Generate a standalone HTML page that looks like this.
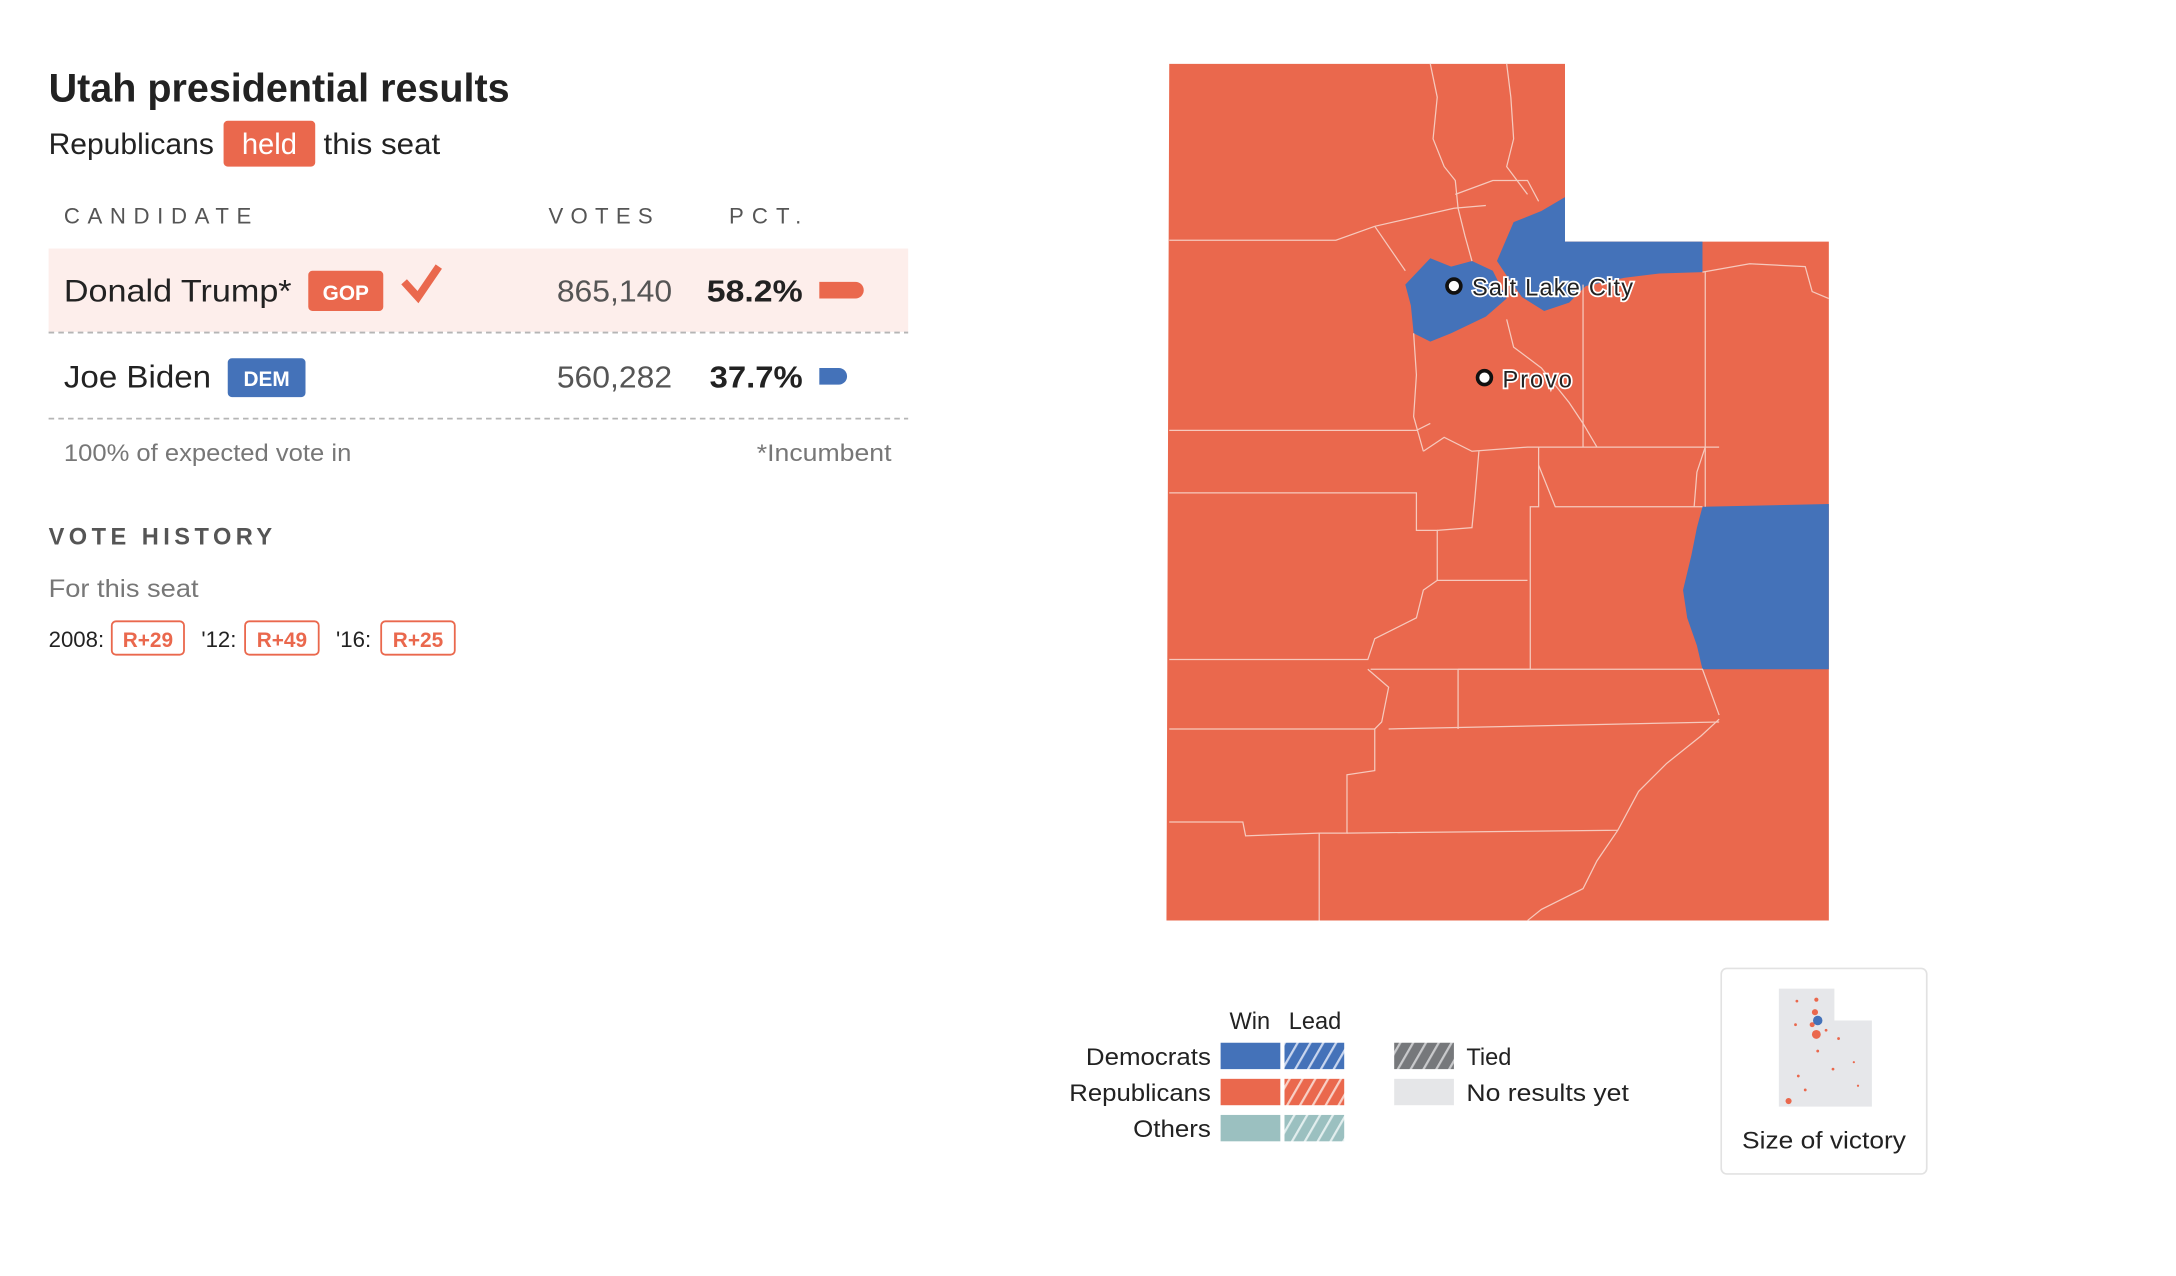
<!DOCTYPE html>
<html><head><meta charset="utf-8"><style>
html,body{margin:0;padding:0;background:#fff;}
svg{display:block;}
text{font-family:"Liberation Sans",sans-serif;}
</style></head><body>
<svg width="2176" height="1276" viewBox="0 0 1567 919" preserveAspectRatio="none" xmlns="http://www.w3.org/2000/svg">
<defs>
<pattern id="hb" width="8" height="8" patternUnits="userSpaceOnUse" patternTransform="rotate(30)"><rect width="8" height="8" fill="#4472b9"/><rect width="1.6" height="8" fill="#c9d6ee"/></pattern>
<pattern id="hr" width="8" height="8" patternUnits="userSpaceOnUse" patternTransform="rotate(30)"><rect width="8" height="8" fill="#ea684d"/><rect width="1.6" height="8" fill="#f8d0c6"/></pattern>
<pattern id="ht" width="8" height="8" patternUnits="userSpaceOnUse" patternTransform="rotate(30)"><rect width="8" height="8" fill="#9bc0c0"/><rect width="1.6" height="8" fill="#e2eeee"/></pattern>
<pattern id="hg" width="8" height="8" patternUnits="userSpaceOnUse" patternTransform="rotate(30)"><rect width="8" height="8" fill="#76787b"/><rect width="1.6" height="8" fill="#c9cacc"/></pattern>
</defs>
<!-- Left panel -->
<text x="35" y="73" font-size="29" font-weight="bold" fill="#222" textLength="332" lengthAdjust="spacingAndGlyphs">Utah presidential results</text>
<text x="35" y="111" font-size="21" fill="#222" textLength="119" lengthAdjust="spacingAndGlyphs">Republicans</text>
<rect x="161" y="87" width="66" height="33" rx="3" fill="#ea684d"/>
<text x="194" y="111" font-size="21" fill="#fff" text-anchor="middle">held</text>
<text x="233" y="111" font-size="21" fill="#222" textLength="84" lengthAdjust="spacingAndGlyphs">this seat</text>
<text x="46" y="161" font-size="16" fill="#555" textLength="135" lengthAdjust="spacing">CANDIDATE</text>
<text x="395" y="161" font-size="16" fill="#555" textLength="75" lengthAdjust="spacing">VOTES</text>
<text x="525" y="161" font-size="16" fill="#555" textLength="52" lengthAdjust="spacing">PCT.</text>
<rect x="35" y="179" width="619" height="60" fill="#fdeeeb"/>
<line x1="35" y1="239.5" x2="654" y2="239.5" stroke="#b5b5b5" stroke-width="1.3" stroke-dasharray="4,3"/>
<line x1="35" y1="301.5" x2="654" y2="301.5" stroke="#b5b5b5" stroke-width="1.3" stroke-dasharray="4,3"/>
<text x="46" y="217" font-size="23" fill="#222" textLength="164" lengthAdjust="spacingAndGlyphs">Donald Trump*</text>
<rect x="222" y="195" width="54" height="29" rx="3" fill="#ea684d"/>
<text x="249" y="216" font-size="15" font-weight="bold" fill="#fff" text-anchor="middle">GOP</text>
<path d="M291 203 L301 214 L316 192" fill="none" stroke="#ea684d" stroke-width="5.5" stroke-linecap="butt"/>
<text x="484" y="217" font-size="22" fill="#555" text-anchor="end" textLength="83" lengthAdjust="spacingAndGlyphs">865,140</text>
<text x="509" y="217" font-size="22" font-weight="bold" fill="#222" textLength="69" lengthAdjust="spacingAndGlyphs">58.2%</text>
<path d="M590 203 H616 A6 6 0 0 1 616 215 H590 Z" fill="#ea684d"/>
<text x="46" y="279" font-size="23" fill="#222" textLength="106" lengthAdjust="spacingAndGlyphs">Joe Biden</text>
<rect x="164" y="258" width="56" height="28" rx="3" fill="#4472b9"/>
<text x="192" y="278" font-size="15" font-weight="bold" fill="#fff" text-anchor="middle">DEM</text>
<text x="484" y="279" font-size="22" fill="#555" text-anchor="end" textLength="83" lengthAdjust="spacingAndGlyphs">560,282</text>
<text x="511" y="279" font-size="22" font-weight="bold" fill="#222" textLength="67" lengthAdjust="spacingAndGlyphs">37.7%</text>
<path d="M590 265 H604 A6 6 0 0 1 604 277 H590 Z" fill="#4472b9"/>
<text x="46" y="332" font-size="17" fill="#777" textLength="207" lengthAdjust="spacingAndGlyphs">100% of expected vote in</text>
<text x="642" y="332" font-size="17" fill="#777" text-anchor="end" textLength="97" lengthAdjust="spacingAndGlyphs">*Incumbent</text>
<text x="35" y="392" font-size="17" font-weight="bold" fill="#555" textLength="161" lengthAdjust="spacing">VOTE HISTORY</text>
<text x="35" y="430" font-size="18" fill="#777" textLength="108" lengthAdjust="spacingAndGlyphs">For this seat</text>
<text x="35" y="466" font-size="16" fill="#222" textLength="40" lengthAdjust="spacingAndGlyphs">2008:</text>
<rect x="80.5" y="447.5" width="52" height="24" rx="3" fill="#fff" stroke="#ea684d" stroke-width="1.3"/>
<text x="106.5" y="466" font-size="15" font-weight="bold" fill="#ea684d" text-anchor="middle">R+29</text>
<text x="145" y="466" font-size="16" fill="#222">'12:</text>
<rect x="176.5" y="447.5" width="53" height="24" rx="3" fill="#fff" stroke="#ea684d" stroke-width="1.3"/>
<text x="203" y="466" font-size="15" font-weight="bold" fill="#ea684d" text-anchor="middle">R+49</text>
<text x="242" y="466" font-size="16" fill="#222">'16:</text>
<rect x="274.5" y="447.5" width="53" height="24" rx="3" fill="#fff" stroke="#ea684d" stroke-width="1.3"/>
<text x="301" y="466" font-size="15" font-weight="bold" fill="#ea684d" text-anchor="middle">R+25</text>

<!-- Map -->
<path d="M842 46 L1127 46 L1127 174 L1317 174 L1317 663 L840 663 Z" fill="#ea684d"/>
<path d="M1012 205 L1030 186 L1045 192 L1060 188 L1075 195 L1085 215 L1070 228 L1045 240 L1030 246 L1018 240 L1016 220 Z" fill="#4472b9"/>
<path d="M1078 188 L1090 160 L1110 152 L1127 142 L1127 174 L1226 174 L1226 196 L1195 197 L1170 200 L1142 206 L1130 218 L1112 224 L1096 214 L1086 200 Z" fill="#4472b9"/>
<path d="M1226 365 L1317 363 L1317 482 L1226 482 L1222 465 L1215 445 L1212 425 L1218 400 L1222 380 Z" fill="#4472b9"/>
<g fill="none" stroke="#f6c9bd" stroke-width="0.9">
<polyline points="842,173 962,173 990,163 1047,150 1070,148"/>
<polyline points="990,163 1012,195"/>
<polyline points="1030,46 1035,70 1032,100 1040,120 1048,130 1050,150"/>
<polyline points="1085,46 1088,70 1090,100 1085,120 1100,140"/>
<polyline points="1048,140 1075,130 1100,130 1108,145"/>
<polyline points="1050,150 1055,170 1060,188"/>
<polyline points="842,310 1020,310 1030,305"/>
<polyline points="1018,240 1020,270 1018,300 1025,325"/>
<polyline points="1025,325 1040,315 1060,325 1100,322 1238,322"/>
<polyline points="1085,230 1090,250 1110,265 1130,290 1140,305 1150,322"/>
<polyline points="1140,205 1140,322"/>
<polyline points="1228,196 1228,365"/>
<polyline points="1226,196 1260,190 1300,192 1305,210 1317,215"/>
<polyline points="842,355 1020,355 1020,382 1035,382 1035,418 1100,418"/>
<polyline points="1065,325 1062,360 1060,380 1035,382"/>
<polyline points="1108,322 1108,365 1102,365 1102,482"/>
<polyline points="1108,335 1120,365 1226,365"/>
<polyline points="1228,322 1222,340 1220,365"/>
<polyline points="842,475 985,475 990,460 1020,445 1025,425 1035,418"/>
<polyline points="987,482 1102,482"/>
<polyline points="1050,482 1226,482 1238,515"/>
<polyline points="1050,482 1050,525"/>
<polyline points="985,482 1000,495 995,520 990,525 842,525"/>
<polyline points="1000,525 1238,520"/>
<polyline points="990,525 990,555 970,558 970,600 950,600 950,663"/>
<polyline points="842,592 895,592 897,602 950,600"/>
<polyline points="970,600 1165,598 1180,570 1200,550 1225,530 1238,518"/>
<polyline points="1165,598 1150,620 1140,640 1110,655 1100,663"/>
</g>
<circle cx="1047" cy="206" r="5" fill="#fff" stroke="#111" stroke-width="2.6"/>
<text x="1060" y="213" font-size="17" fill="#222" stroke="#fff" stroke-width="2.5" paint-order="stroke" textLength="116" lengthAdjust="spacing">Salt Lake City</text>
<circle cx="1069" cy="272" r="5" fill="#fff" stroke="#111" stroke-width="2.6"/>
<text x="1082" y="279" font-size="17" fill="#222" stroke="#fff" stroke-width="2.5" paint-order="stroke" textLength="50" lengthAdjust="spacing">Provo</text>

<!-- Legend -->
<g font-size="17" fill="#222">
<text x="900" y="741" text-anchor="middle">Win</text>
<text x="947" y="741" text-anchor="middle">Lead</text>
<text x="872" y="767" text-anchor="end" textLength="90" lengthAdjust="spacingAndGlyphs">Democrats</text>
<text x="872" y="793" text-anchor="end" textLength="102" lengthAdjust="spacingAndGlyphs">Republicans</text>
<text x="872" y="819" text-anchor="end" textLength="56" lengthAdjust="spacingAndGlyphs">Others</text>
<text x="1056" y="767">Tied</text>
<text x="1056" y="793" textLength="117" lengthAdjust="spacingAndGlyphs">No results yet</text>
</g>
<rect x="879" y="751" width="43" height="19" fill="#4472b9"/>
<rect x="925" y="751" width="43" height="19" fill="url(#hb)"/>
<rect x="879" y="777" width="43" height="19" fill="#ea684d"/>
<rect x="925" y="777" width="43" height="19" fill="url(#hr)"/>
<rect x="879" y="803" width="43" height="19" fill="#9bc0c0"/>
<rect x="925" y="803" width="43" height="19" fill="url(#ht)"/>
<rect x="1004" y="751" width="43" height="19" fill="url(#hg)"/>
<rect x="1004" y="777" width="43" height="19" fill="#e5e6e8"/>

<rect x="1239.5" y="697.5" width="148" height="148" rx="4" fill="#fff" stroke="#e2e2e2" stroke-width="1.2"/>
<path d="M1281 712 L1321 712 L1321 735 L1348 735 L1348 797 L1281 797 Z" fill="#e6e7ea"/>
<g fill="#ea684d">
<circle cx="1308" cy="745" r="3.2"/><circle cx="1307" cy="729" r="2.2"/><circle cx="1305" cy="738" r="1.8"/>
<circle cx="1308" cy="720" r="1.5"/><circle cx="1294" cy="721" r="1"/><circle cx="1288" cy="793" r="2.2"/>
<circle cx="1293" cy="738" r="1"/><circle cx="1315" cy="742" r="1"/><circle cx="1324" cy="748" r="1"/>
<circle cx="1309" cy="757" r="1"/><circle cx="1300" cy="785" r="1"/><circle cx="1320" cy="770" r="1"/>
<circle cx="1295" cy="775" r="1"/><circle cx="1335" cy="765" r="0.8"/><circle cx="1338" cy="782" r="0.8"/>
</g>
<circle cx="1309" cy="735" r="3.4" fill="#4472b9"/>
<text x="1313.5" y="827" font-size="17" fill="#222" text-anchor="middle" textLength="118" lengthAdjust="spacingAndGlyphs">Size of victory</text>
</svg>
</body></html>
